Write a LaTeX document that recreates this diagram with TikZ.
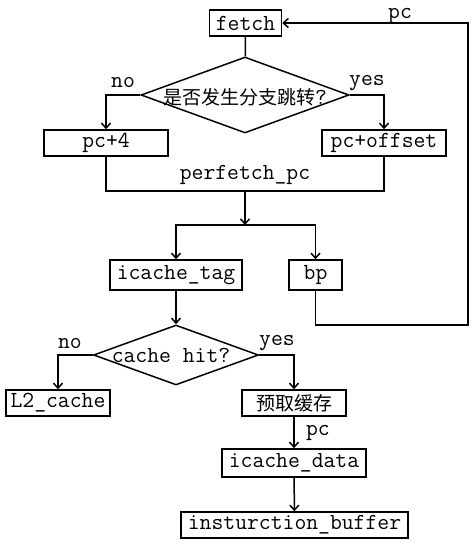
\documentclass[tikz,border=0pt]{standalone}
\usepackage{fontspec}
\newfontfamily\cjk{Noto Sans CJK SC}
\usetikzlibrary{shapes.geometric,arrows.meta}

\tikzset{
  blk/.style={draw, inner sep=0pt, minimum height=26pt},
  cond/.style={draw, diamond, inner sep=0pt},
  lbl/.style={inner sep=0pt}
}

\begin{document}
\begin{tikzpicture}[x=1pt,y=-1pt,>={Straight Barb[length=5pt,width=9pt]},
    line width=1.5pt, every node/.style={font=\ttfamily\fontsize{23}{25}\selectfont}]
                \useasboundingbox (0,0) rectangle (474,544);

                \node[blk, minimum width=72pt] (fetch) at (245.5,23) {fetch};
                \node[cond, minimum width=208pt, minimum height=76pt] (br) at (245,95) {};
                \node[lbl] (brtxt) at (245,97) {{\cjk\fontsize{19}{21}\selectfont 是否发生分支跳转}?};
                \node[blk, minimum width=124pt] (pc4) at (106,143) {pc+4};
                \node[blk, minimum width=124pt] (pcoff) at (384,143) {pc+offset};
                \node[lbl] (no1) at (123,83) {no};
                \node[lbl] (yes1) at (367,83) {yes};

                \draw (fetch) -- (br);
                \draw[->] (br.west) -| (pc4.north);
                \draw[->] (br.east) -| (pcoff.north);

                \coordinate (mid) at (245,191);
                \coordinate (split) at (245,225);
                \node[lbl] (pfpc) at (245,175) {perfetch\_pc};
                \draw (pc4.south) |- (mid) -| (pcoff.south);
                \draw[->] (mid) -- (split);

                \node[blk, minimum width=132pt, minimum height=30pt] (tag) at (176,275) {icache\_tag};
                \node[blk, minimum width=53pt, minimum height=30pt] (bp) at (315.5,275) {bp};
                \draw[->] (split) -| (tag.north);
                \draw[->] (split) -| (bp.north);

                % bp goes back to fetch
                \coordinate (back) at (468,325);
                \draw[->] (bp.south) |- (back) |- (fetch.east);
                \node[lbl, anchor=base] (pc1) at (400,18) {pc};

                \node[cond, minimum width=165pt, minimum height=60pt] (hit) at (176,355) {};
                \node[lbl] (hittxt) at (171,355) {cache hit?};
                \node[lbl] (no2) at (70,344) {no};
                \node[lbl] (yes2) at (277,343) {yes};
                \draw[->] (tag) -- (hit);

                \node[blk, minimum width=104pt] (l2) at (58,403) {L2\_cache};
                \node[blk, minimum width=104pt] (pre) at (294,403) {{\cjk\fontsize{19}{21}\selectfont 预取缓存}};
                \draw[->] (hit.west) -| (l2.north);
                \draw[->] (hit.east) -| (pre.north);

                \node[blk, minimum width=144pt, minimum height=28pt] (data) at (294,463) {icache\_data};
                \node[blk, minimum width=227pt] (buf) at (294.5,525) {insturction\_buffer};
                \draw[->] (pre) -- (data) node[midway,right=8pt] (pc2) {pc};
                \draw[->] (data) -- (buf);
            \end{tikzpicture}
\end{document}
